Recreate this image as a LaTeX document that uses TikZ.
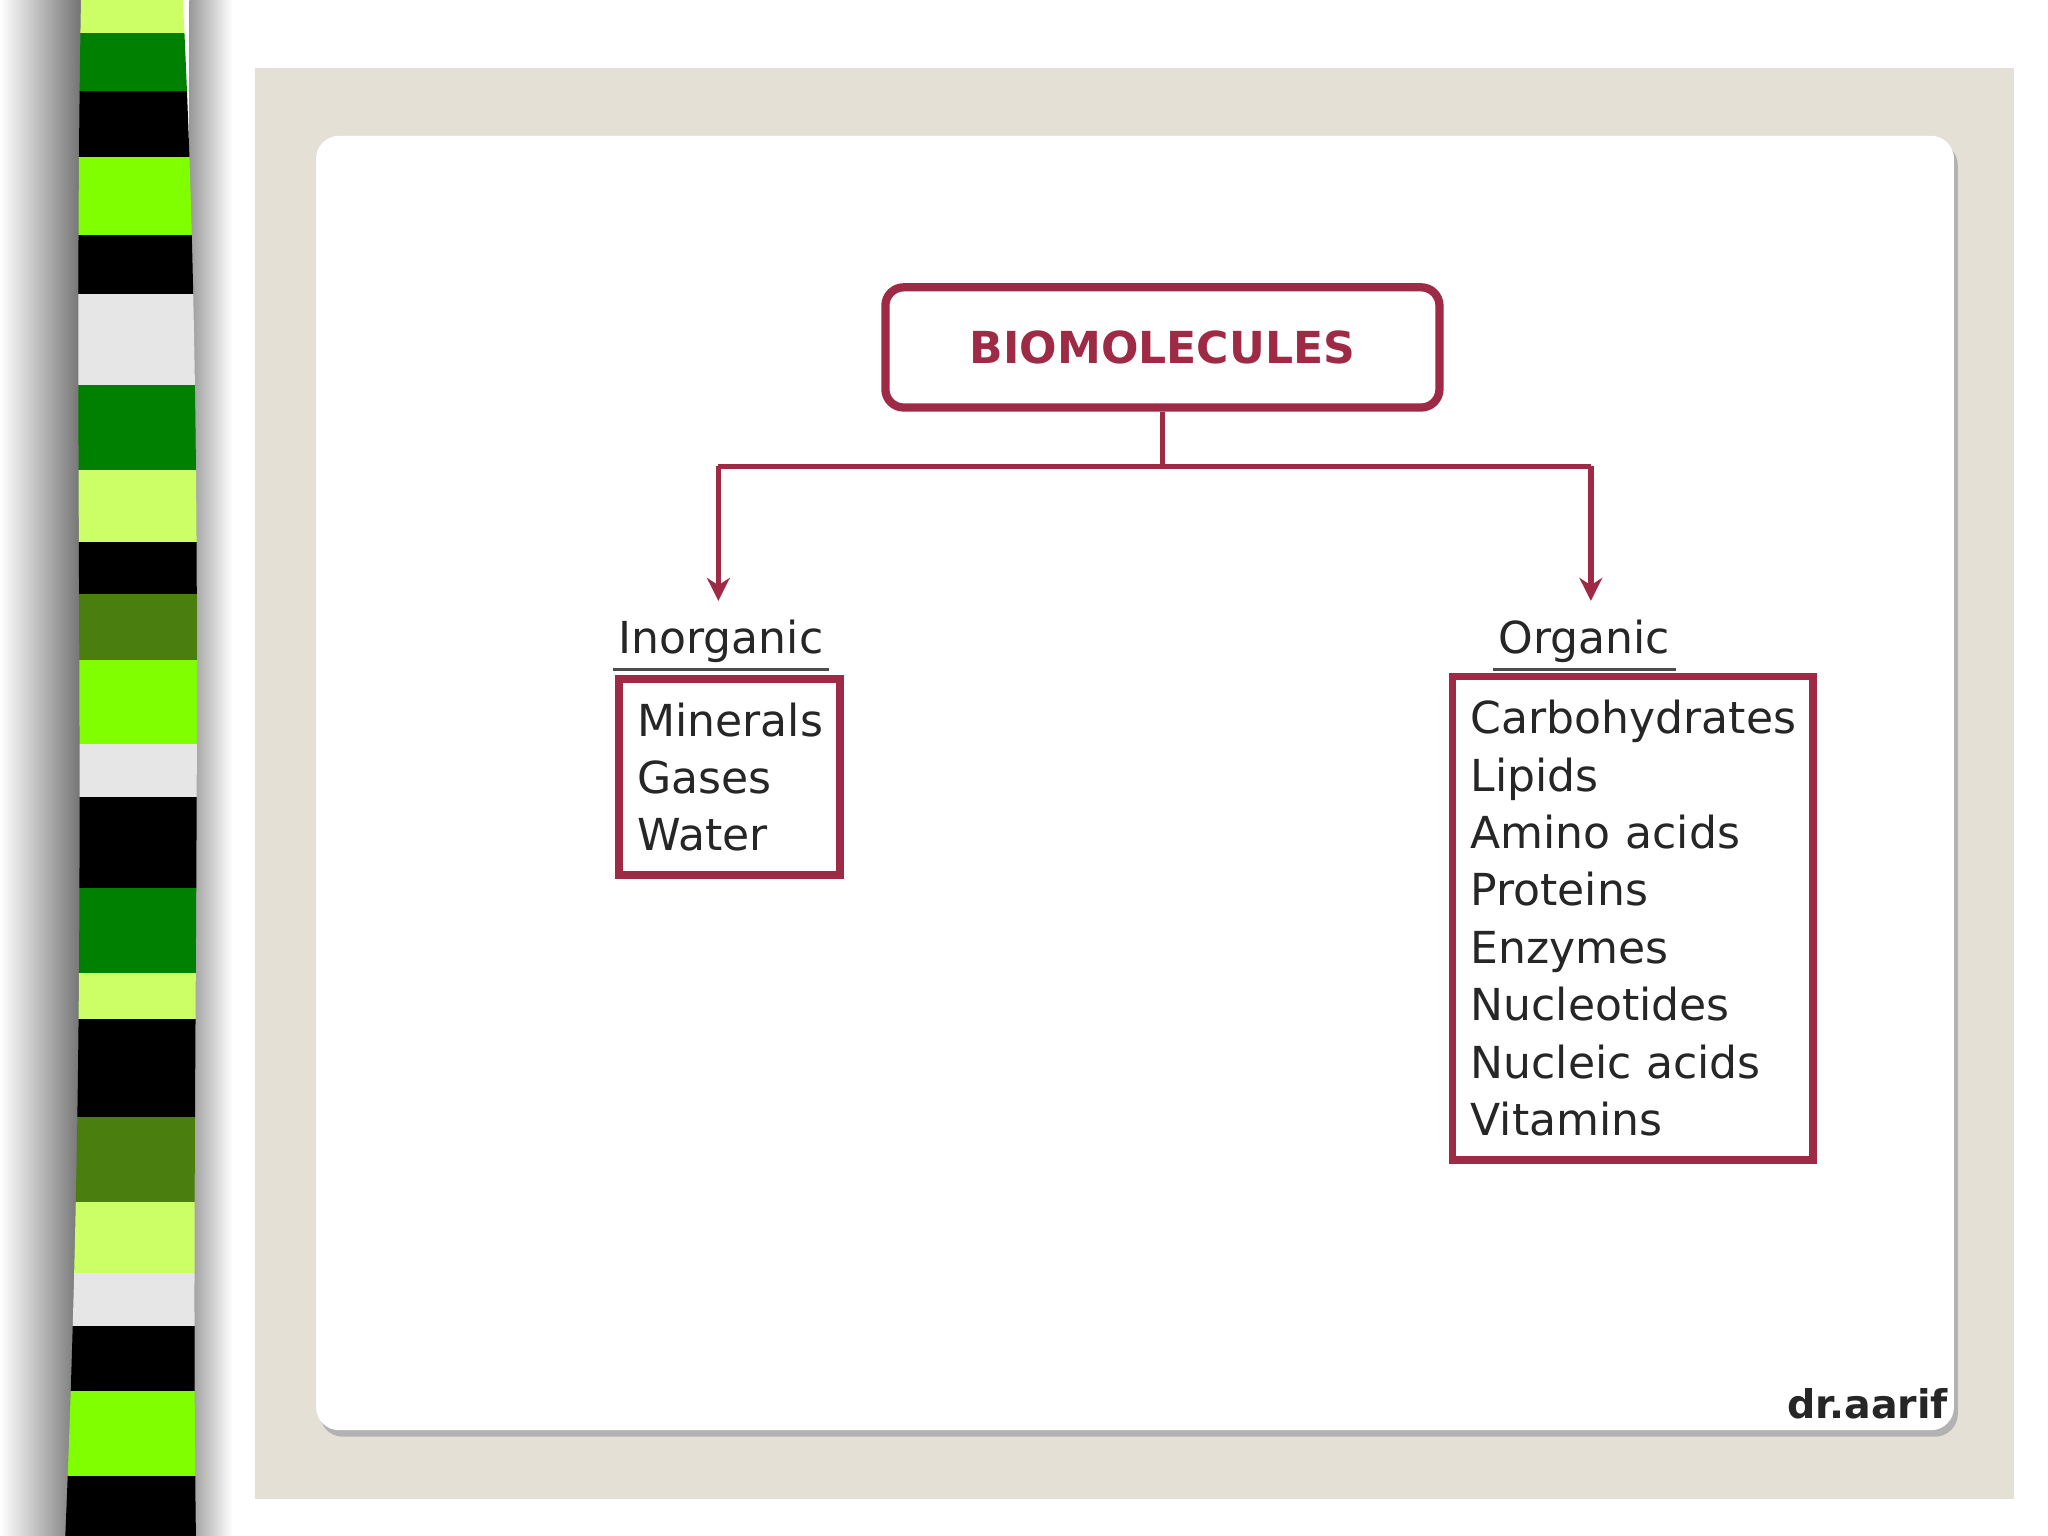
\documentclass[tikz,border=0pt]{standalone}
\usepackage{fontspec}
\setmainfont{DejaVu Sans}
\usetikzlibrary{arrows.meta,shadows}
\definecolor{maroon}{HTML}{9E2A45}
\definecolor{lg}{HTML}{CCFF66}
\definecolor{dg}{HTML}{008000}
\definecolor{bg}{HTML}{80FF00}
\definecolor{og}{HTML}{4A7F10}
\definecolor{gy}{HTML}{E6E6E6}
\definecolor{panel}{HTML}{E5E0D6}
\tikzset{
  item/.style={draw=maroon,line width=1.6pt,align=left,inner ysep=0pt,inner xsep=0.14cm,font=\fontsize{9.6}{12.5}\selectfont,text=black!85},
  head/.style={font=\fontsize{9.6}{12}\selectfont,text=black!85,inner sep=1pt},
  ul/.style={black!70,line width=0.6pt},
  conn/.style={draw=maroon,line width=1.2pt},
  arr/.style={conn,-{Stealth[length=5pt,width=5pt]}}
}
\begin{document}
\begin{tikzpicture}[x=0.01cm,y=-0.01cm]
\useasboundingbox (0,0) rectangle (1568,1176);
\fill[white] (0,0) rectangle (1568,1176);
% shadows
\shade[left color=white,right color=black!55] (0,0) rectangle (62,1176);
\shade[left color=black!40,right color=white] (145,0) rectangle (178,1176);
% stripe
\begin{scope}
\clip (62,0) .. controls (55,400) and (70,700) .. (50,1176) -- (150,1176) .. controls (145,800) and (160,400) .. (140,0) -- cycle;
\foreach \a/\b/\c in {0/25/lg,25/70/dg,70/120/black,120/180/bg,180/225/black,225/295/gy,295/360/dg,360/415/lg,415/455/black,455/505/og,505/570/bg,570/610/gy,610/680/black,680/745/dg,745/780/lg,780/855/black,855/920/og,920/975/lg,975/1015/gy,1015/1065/black,1065/1130/bg,1130/1176/black}
  \fill[\c] (40,\a) rectangle (160,\b);
\end{scope}
% panel
\fill[panel] (195,52) rectangle (1542,1148);
\fill[black!30,rounded corners=5pt] (245,109) rectangle (1499,1100);
\fill[white,rounded corners=5pt] (242,104) rectangle (1496,1095);
% title
\node[draw=maroon,line width=1.8pt,rounded corners=4pt,minimum width=4.24cm,minimum height=0.92cm,text=maroon,font=\bfseries\fontsize{9.6}{12}\selectfont] (bio) at (890,266) {BIOMOLECULES};
\coordinate (j) at (890,357);
\coordinate (l) at (550,357);
\coordinate (r) at (1218,357);
\coordinate (la) at (550,460);
\coordinate (ra) at (1218,460);
\draw[conn] (bio.south) -- (j);
\draw[conn] (l) -- (r);
\draw[arr] (l) -- (la);
\draw[arr] (r) -- (ra);
\node[head] (inh) at (552,491) {Inorganic};
\node[head] (orh) at (1213,491) {Organic};
\draw[ul] ([yshift=-3.5pt]inh.base west) -- ([yshift=-3.5pt]inh.base east);
\draw[ul] ([yshift=-3.5pt]orh.base west) -- ([yshift=-3.5pt]orh.base east);
\node[item,minimum width=1.69cm,minimum height=1.5cm,text width=1.41cm] (inb) at (558.5,595) {Minerals\\Gases\\Water};
\node[item,minimum width=2.76cm,minimum height=3.7cm,text width=2.48cm] (orb) at (1250,703) {Carbohydrates\\Lipids\\Amino acids\\Proteins\\Enzymes\\Nucleotides\\Nucleic acids\\Vitamins};
\node[font=\bfseries\fontsize{8.6}{10}\selectfont,text=black!85] (sig) at (1430,1075) {dr.aarif};
\end{tikzpicture}
\end{document}
